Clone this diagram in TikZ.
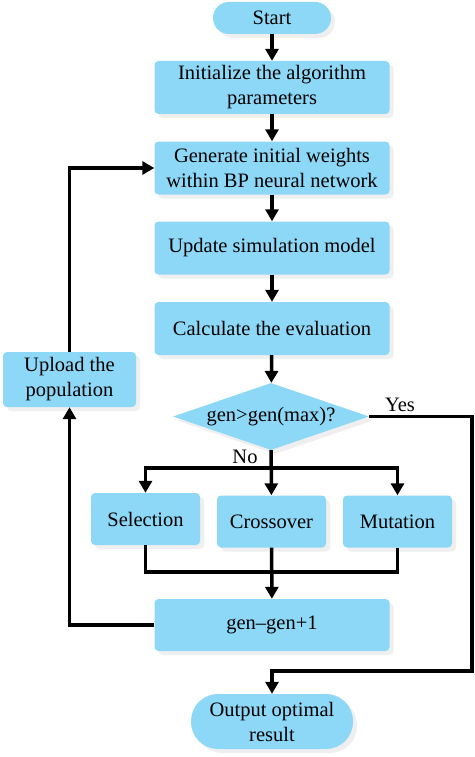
\documentclass[tikz,border=0pt]{standalone}
\usepackage{fontspec}
\setmainfont{Liberation Serif}
\usetikzlibrary{arrows.meta,shapes.geometric,shadows}

\begin{document}
\begin{tikzpicture}[x=1pt, y=-1pt,
        every node/.style={font=\fontsize{20.5}{25}\selectfont, align=center, inner sep=0pt},
        boxShadow/.style={drop shadow={shadow xshift=4pt, shadow yshift=-4pt, fill=black!12}},
        stepBox/.style={fill=boxColor, rounded corners=4pt, minimum width=235pt, minimum height=53pt, boxShadow},
        smallBox/.style={fill=boxColor, rounded corners=4pt, minimum width=109pt, minimum height=52pt, boxShadow},
        pillBox/.style={fill=boxColor, rounded corners=#1, boxShadow},
        testBox/.style={diamond, fill=boxColor, aspect=2.9, minimum width=196pt, minimum height=67pt, boxShadow},
        flowLine/.style={line width=3.5pt},
        flowArrow/.style={line width=3.5pt, -{Triangle[length=12pt,width=13pt]}}]
    % Colours of the boxes
    \definecolor{boxColor}{RGB}{140,216,246}

    % Page frame (pixel units of the reference)
    \useasboundingbox (0,0) rectangle (474,757);

    % Main column
    \def\xMid{272}
    \node[pillBox=16pt, minimum width=118pt, minimum height=32pt] (start) at (\xMid,18) {Start};
    \node[stepBox] (init) at (\xMid,87.5) {Initialize the algorithm\\parameters};
    \node[stepBox] (weights) at (\xMid,168) {Generate initial weights\\within BP neural network};
    \node[stepBox] (update) at (\xMid,248) {Update simulation model};
    \node[stepBox] (evaluate) at (\xMid,328.5) {Calculate the evaluation};
    \node[testBox] (test) at (271,416.5) {gen>gen(max)?};

    % Genetic operators
    \node[smallBox] (select) at (145.5,519) {Selection};
    \node[smallBox] (cross) at (271.5,521.5) {Crossover};
    \node[smallBox] (mutate) at (397.5,521.5) {Mutation};

    \node[stepBox, minimum height=52pt] (counter) at (\xMid,625) {gen–gen+1};
    \node[smallBox, minimum width=133pt, minimum height=55pt] (upload) at (69.5,379.5) {Upload the\\population};
    \node[pillBox=27pt, minimum width=162pt, minimum height=55pt] (output) at (\xMid,721.5) {Output optimal\\result};

    % Branch points
    \coordinate (fork) at (\xMid,468);
    \coordinate (join) at (\xMid,572);
    \coordinate (yesCorner) at (472,671);

    % Straight flow
    \draw[flowArrow] (start) -- (init);
    \draw[flowArrow] (init) -- (weights);
    \draw[flowArrow] (weights) -- (update);
    \draw[flowArrow] (update) -- (evaluate);
    \draw[flowArrow] (evaluate) -- (test);

    % No: split into the three operators
    \draw[flowArrow] (test) -- (cross);
    \draw[flowArrow] (fork) -| (select);
    \draw[flowArrow] (fork) -| (mutate);
    \node at (245,457) {No};

    % Merge back into the counter
    \draw[flowLine] (select) |- (join);
    \draw[flowLine] (mutate) |- (join);
    \draw[flowArrow] (cross) -- (counter);

    % Loop through the upload box
    \draw[flowArrow] (counter.west) -| (upload.south);
    \draw[flowArrow] (upload.north) |- (weights.west);

    % Yes: leave the loop
    \draw[flowArrow] (test.east) -| (yesCorner) -| (output.north);
    \node at (400,405) {Yes};
\end{tikzpicture}
\end{document}
